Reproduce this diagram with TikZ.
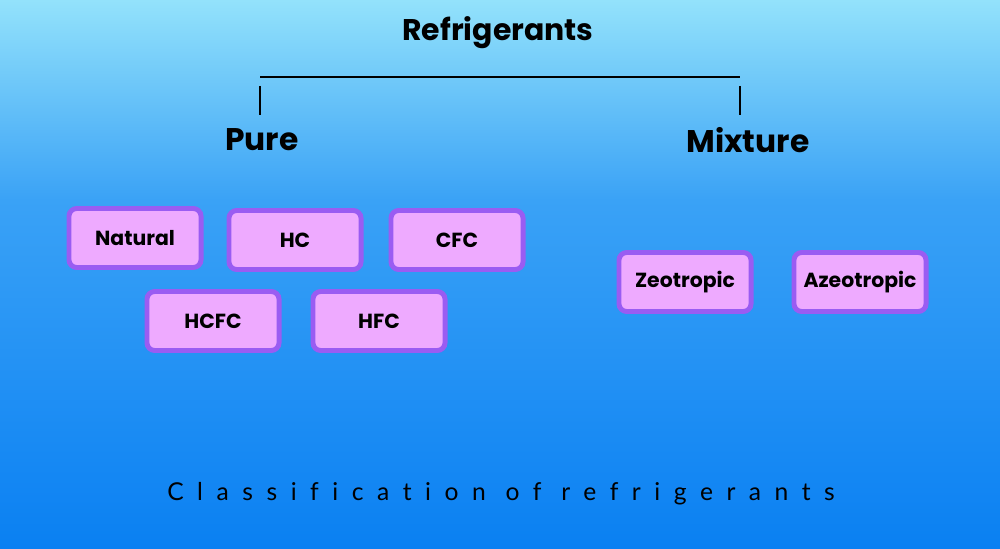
\documentclass[tikz,border=0pt]{standalone}
\usepackage{fontspec}
\setmainfont{Poppins}
\newfontfamily\capfont[LetterSpace=55,Ligatures=NoCommon]{Lato}
\definecolor{boxfill}{HTML}{EEAAFF}
\definecolor{boxline}{HTML}{9A5CF2}
\definecolor{topc}{HTML}{93E2FB}
\definecolor{midc}{HTML}{3AA2F6}
\definecolor{botc}{HTML}{0A80F2}
\begin{document}
\begin{tikzpicture}[x=0.01cm,y=-0.01cm,
  box/.style={draw=boxline,line width=1.4pt,fill=boxfill,rounded corners=2.2pt,
    minimum width=1.32cm,minimum height=0.59cm,font=\bfseries\fontsize{5.8}{7}\selectfont,
    inner sep=0pt}]
\shade[top color=topc,bottom color=midc] (0,0) rectangle (1000,200);
\shade[top color=midc,bottom color=botc] (0,199.5) rectangle (1000,549);
\useasboundingbox (0,0) rectangle (1000,549);
\node[font=\bfseries\fontsize{8.5}{10}\selectfont] (ref) at (498,33) {Refrigerants};
\node[font=\bfseries\fontsize{8.9}{10}\selectfont] (pure) at (262,140) {Pure};
\node[font=\bfseries\fontsize{8.9}{10}\selectfont] (mix) at (748,140) {Mixture};
\coordinate (hl) at (260,77); \coordinate (hr) at (740,77);
\coordinate (vl1) at (260,86); \coordinate (vl2) at (260,115);
\coordinate (vr1) at (740,86); \coordinate (vr2) at (740,115);
\draw[line width=0.5pt] (hl) -- (hr);
\draw[line width=0.5pt] (vl1) -- (vl2);
\draw[line width=0.5pt] (vr1) -- (vr2);
\node[box] (nat) at (135,238) {Natural};
\node[box] (hc) at (295,240) {HC};
\node[box] (cfc) at (457,240) {CFC};
\node[box] (hcfc) at (213,321) {HCFC};
\node[box] (hfc) at (379,321) {HFC};
\node[box] (zeo) at (685,282) {Zeotropic};
\node[box] (aze) at (860,282) {Azeotropic};
\node[font=\capfont\fontsize{7}{8}\selectfont] (cap) at (501,494) {Classification of refrigerants};
\end{tikzpicture}
\end{document}
